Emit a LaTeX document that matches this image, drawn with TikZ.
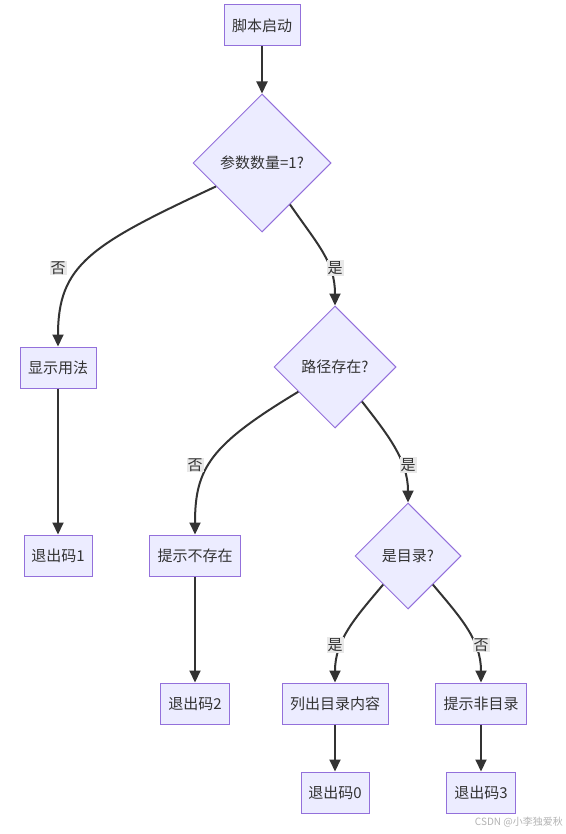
\documentclass[tikz,border=0pt]{standalone}
\usepackage{fontspec}
\setmainfont{Noto Sans CJK SC}
\usetikzlibrary{shapes.geometric,arrows.meta}
\definecolor{nodefill}{HTML}{ECECFF}
\definecolor{nodeborder}{HTML}{9370DB}
\definecolor{ink}{HTML}{333333}
\definecolor{lblbg}{HTML}{E8E8E8}
\begin{document}
\begin{tikzpicture}[x=1pt,y=-1pt,
  font=\fontsize{15}{18}\selectfont,
  boxnode/.style={draw=nodeborder,fill=nodefill,line width=1pt,text=ink,minimum height=41pt,inner sep=0pt},
  decision/.style={diamond,aspect=1,draw=nodeborder,fill=nodefill,line width=1pt,text=ink,inner sep=0pt},
  flow/.style={draw=ink,line width=2pt,-{Triangle[length=12pt,width=11pt]}},
  lbl/.style={fill=lblbg,text=ink,inner sep=1pt}]
\useasboundingbox (0,0) rectangle (565,834);
\node[boxnode,minimum width=76pt] (start) at (262,25.5) {脚本启动};
\node[decision,minimum width=138pt,minimum height=138pt] (d1) at (262,163) {参数数量=1?};
\node[boxnode,minimum width=76pt] (usage) at (58,367.5) {显示用法};
\node[boxnode,minimum width=68pt] (e1) at (58,555.5) {退出码1};
\node[decision,minimum width=122pt,minimum height=122pt] (d2) at (335,367) {路径存在?};
\node[boxnode,minimum width=91pt] (nex) at (195,555.5) {提示不存在};
\node[boxnode,minimum width=69pt] (e2) at (195,703.5) {退出码2};
\node[decision,minimum width=106pt,minimum height=106pt] (d3) at (408,556) {是目录?};
\node[boxnode,minimum width=106pt] (list) at (335,703.5) {列出目录内容};
\node[boxnode,minimum width=91pt] (ndir) at (481,703.5) {提示非目录};
\node[boxnode,minimum width=68pt] (e0) at (335,792.5) {退出码0};
\node[boxnode,minimum width=69pt] (e3) at (481,792.5) {退出码3};

\draw[flow] (start) -- (d1);
\draw[flow] (d1.207) .. controls (90,245) and (58,265) .. (usage.north);
\draw[flow] (d1.304) .. controls (318,245) and (335,262) .. (d2.north);
\draw[flow] (usage) -- (e1);
\draw[flow] (d2.214) .. controls (210,445) and (195,468) .. (nex.north);
\draw[flow] (d2.308) .. controls (388,435) and (408,460) .. (d3.north);
\draw[flow] (nex) -- (e2);
\draw[flow] (d3.229) .. controls (355,618) and (335,640) .. (list.north);
\draw[flow] (d3.311) .. controls (461,618) and (481,640) .. (ndir.north);
\draw[flow] (list) -- (e0);
\draw[flow] (ndir) -- (e3);

\node[lbl] (l1) at (58,268) {否};
\node[lbl] (l2) at (335,268) {是};
\node[lbl] (l3) at (195,465) {否};
\node[lbl] (l4) at (408,465) {是};
\node[lbl] (l5) at (335,645) {是};
\node[lbl] (l6) at (481,645) {否};
\node[anchor=east,text=black!30,font=\fontsize{10}{12}\selectfont,inner sep=0pt] (wm) at (563,822) {CSDN @小李独爱秋};
\end{tikzpicture}
\end{document}
